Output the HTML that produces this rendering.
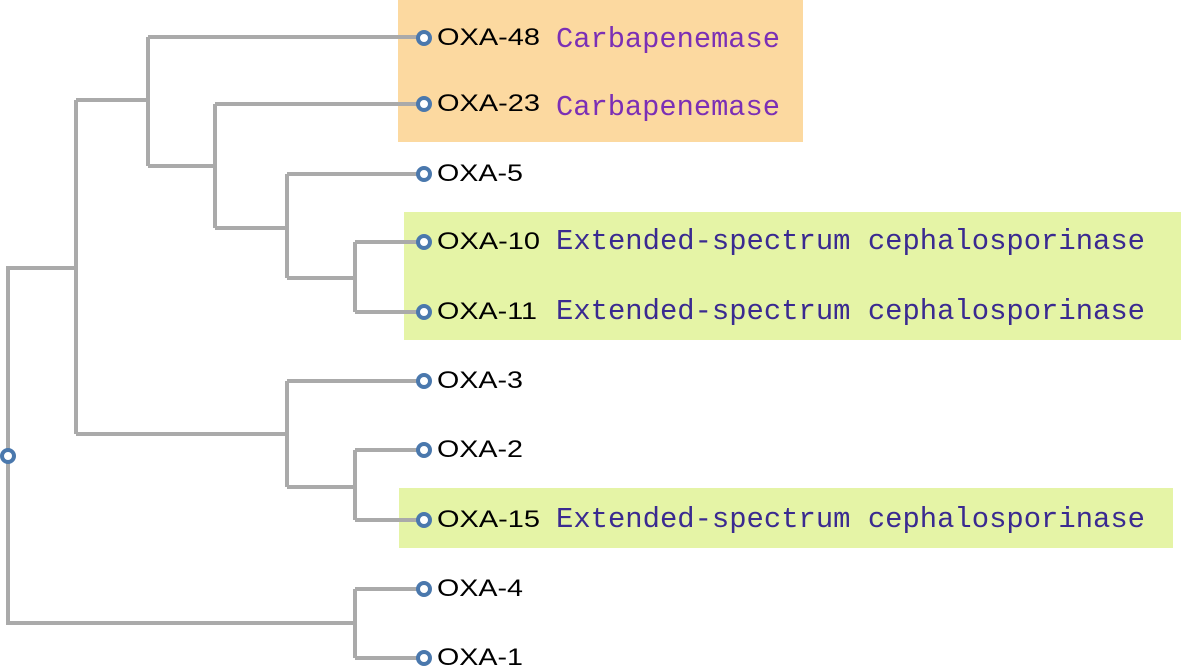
<!DOCTYPE html>
<html><head><style>body{margin:0;background:#fff}svg{display:block}</style></head><body>
<svg width="1181" height="668" viewBox="0 0 1181 668" xmlns="http://www.w3.org/2000/svg">
<rect x="398" y="0" width="405" height="142" fill="#fcd9a0"/>
<rect x="404" y="212" width="777" height="128" fill="#e5f4a6"/>
<rect x="399" y="488" width="774" height="60" fill="#e5f4a6"/>
<g fill="none" stroke="#aaaaaa" stroke-width="4">
<path d="M8,456 V268 H76 M8,456 V623 H355"/>
<path d="M76,100 V434 M76,100 H148 M76,434 H287"/>
<path d="M148,37 V166 M148,37 H424 M148,166 H215"/>
<path d="M215,104 V228 M215,104 H424 M215,228 H287"/>
<path d="M287,174 V278 M287,174 H424 M287,278 H355"/>
<path d="M355,242 V312 M355,242 H424 M355,312 H424"/>
<path d="M287,381 V487 M287,381 H424 M287,487 H355"/>
<path d="M355,450 V520 M355,450 H424 M355,520 H424"/>
<path d="M355,589 V658 M355,589 H424 M355,658 H424"/>
</g>
<g fill="#fff" stroke="#4a78ad" stroke-width="4">
<circle cx="8" cy="456" r="6"/>
<circle cx="424" cy="38" r="6"/><circle cx="424" cy="104" r="6"/><circle cx="424" cy="174" r="6"/>
<circle cx="424" cy="242" r="6"/><circle cx="424" cy="312" r="6"/><circle cx="424" cy="381" r="6"/>
<circle cx="424" cy="450" r="6"/><circle cx="424" cy="520" r="6"/><circle cx="424" cy="589" r="6"/>
<circle cx="424" cy="658" r="6"/>
</g>
<g font-family="Liberation Sans, sans-serif" font-size="24" fill="#000" lengthAdjust="spacingAndGlyphs">
<text x="437" y="45" textLength="103" lengthAdjust="spacingAndGlyphs">OXA-48</text>
<text x="437" y="111" textLength="103" lengthAdjust="spacingAndGlyphs">OXA-23</text>
<text x="437" y="181" textLength="86" lengthAdjust="spacingAndGlyphs">OXA-5</text>
<text x="437" y="249" textLength="103" lengthAdjust="spacingAndGlyphs">OXA-10</text>
<text x="437" y="319" textLength="100" lengthAdjust="spacingAndGlyphs">OXA-11</text>
<text x="437" y="388" textLength="86" lengthAdjust="spacingAndGlyphs">OXA-3</text>
<text x="437" y="457" textLength="86" lengthAdjust="spacingAndGlyphs">OXA-2</text>
<text x="437" y="527" textLength="103" lengthAdjust="spacingAndGlyphs">OXA-15</text>
<text x="437" y="596" textLength="86" lengthAdjust="spacingAndGlyphs">OXA-4</text>
<text x="437" y="665" textLength="86" lengthAdjust="spacingAndGlyphs">OXA-1</text>
</g>
<g font-family="Liberation Mono, monospace" font-size="29">
<text x="556" y="47" fill="#7b2fb5" textLength="224" lengthAdjust="spacingAndGlyphs">Carbapenemase</text>
<text x="556" y="115" fill="#7b2fb5" textLength="224" lengthAdjust="spacingAndGlyphs">Carbapenemase</text>
<text x="556" y="249" fill="#3a2a90" textLength="589" lengthAdjust="spacingAndGlyphs">Extended-spectrum cephalosporinase</text>
<text x="556" y="319" fill="#3a2a90" textLength="589" lengthAdjust="spacingAndGlyphs">Extended-spectrum cephalosporinase</text>
<text x="556" y="527" fill="#3a2a90" textLength="589" lengthAdjust="spacingAndGlyphs">Extended-spectrum cephalosporinase</text>
</g>
</svg>
</body></html>
